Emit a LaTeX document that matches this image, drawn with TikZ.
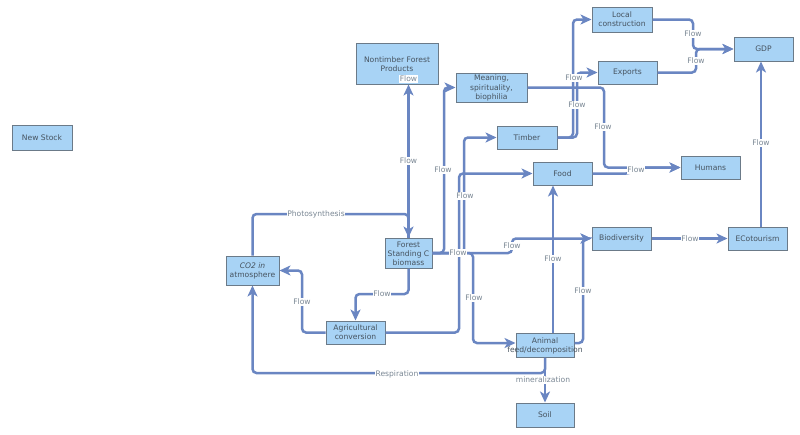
\documentclass[tikz,border=0pt]{standalone}
\usepackage{fontspec}
\setmainfont{DejaVu Sans}
\usetikzlibrary{arrows.meta}
\definecolor{boxfill}{HTML}{A8D3F5}
\definecolor{boxline}{HTML}{6B7A88}
\definecolor{boxtext}{HTML}{46535F}
\definecolor{flowc}{HTML}{6A86C2}
\definecolor{lblc}{HTML}{7A8794}
\tikzset{
  box/.style={draw=boxline, fill=boxfill, line width=1pt, inner sep=0pt,
    text=boxtext, font=\fontsize{7.6}{9.2}\selectfont, align=center},
  boxtxt/.style={text=boxtext, font=\fontsize{7.6}{9.2}\selectfont, align=center, inner sep=0pt},
  flow/.style={draw=flowc, line width=2.5pt, rounded corners=4pt,
    -{Stealth[length=11pt,width=10pt,inset=3pt]}},
  lbl/.style={fill=white, text=lblc, inner sep=0.6pt, font=\fontsize{7.6}{9}\selectfont}
}
\begin{document}
\begin{tikzpicture}[x=1pt,y=-1pt]
\path[use as bounding box, fill=white] (0,0) rectangle (800,434);

% boxes
\node[box, minimum width=60pt, minimum height=25pt] (stack) at (42,137.5) {New Stock};
\node[box, minimum width=60pt, minimum height=25pt] (local) at (622,19.5) {Local\\construction};
\node[box, minimum width=59pt, minimum height=23pt] (exports) at (627.5,72.5) {Exports};
\node[box, minimum width=59pt, minimum height=24pt] (gdp) at (763.5,49) {GDP};
\node[box, minimum width=59pt, minimum height=23pt] (humans) at (710.5,167.5) {Humans};
\node[box, minimum width=59pt, minimum height=23pt] (biodiv) at (621.5,238.5) {Biodiversity};
\node[box, minimum width=59pt, minimum height=23pt] (eco) at (757.5,238.5) {ECotourism};
\node[box, minimum width=82pt, minimum height=41pt] (nontimber) at (397,63.5) {};
\node[boxtxt] (nontimbertxt) at (397,64) {Nontimber Forest\\Products};
\node[box, minimum width=71pt, minimum height=29pt] (meaning) at (491.5,87.5) {};
\node[boxtxt] (meaningtxt) at (491.5,88) {Meaning,\\spirituality,\\biophilia};
\node[box, minimum width=60pt, minimum height=23pt] (timber) at (527,137.5) {Timber};
\node[box, minimum width=59pt, minimum height=23pt] (food) at (562.5,173.5) {Food};
\node[box, minimum width=47pt, minimum height=30pt] (forest) at (408.5,253) {};
\node[boxtxt] (foresttxt) at (408.5,254) {Forest\\Standing C\\biomass};
\node[box, minimum width=53pt, minimum height=29pt] (co2) at (252.5,270.5) {\itshape CO2 in\\atmosphere};
\node[box, minimum width=59pt, minimum height=23pt] (agri) at (355.5,332.5) {Agricultural\\conversion};
\node[box, minimum width=58pt, minimum height=24pt] (animal) at (545,345) {};
\node[boxtxt] (animaltxt) at (545,346) {Animal\\feed/decomposition};
\node[box, minimum width=58pt, minimum height=24pt] (soil) at (545,415) {Soil};

% connectors
\draw[flow] (co2.north) |- (408.5,214) -- (forest.north);
\draw[flow] (forest.north) -- (forest.north |- nontimber.south);
\draw[flow] (forest.east) -- (444,253) |- (meaning.west);
\draw[flow] (forest.east) -- (464,253) |- (timber.west);
\draw[flow] (agri.east) -- (459,332.5) |- (food.west);
\draw[flow] (forest.east) -- (473,253) |- ([yshift=2pt]animal.west);
\draw[flow] (forest.east) -- (512,253) |- (biodiv.west);
\draw[flow] (forest.south) -- (408.5,294) -| (agri.north);
\draw[flow] (agri.west) -- (302,332.5) |- (co2.east);
\draw[flow] (animal.south) -- (545,373) -| (co2.south);
\draw[flow] (animal.south) -- (soil.north);
\draw[flow] ([xshift=8pt]animal.north) -- ([xshift=8pt]animal.north |- food.south);
\draw[flow] ([yshift=2pt]animal.east) -- (583,343) |- (biodiv.west);
\draw[flow] (timber.east) -- (573,137.5) |- (local.west);
\draw[flow] (timber.east) -- (577,137.5) |- (exports.west);
\draw[flow] (meaning.east) -- (604,87.5) |- (humans.west);
\draw[flow] (food.east) -- (630,173.5) -- (638,167.5) -- (humans.west);
\draw[flow] (local.east) -- (693,19.5) |- (gdp.west);
\draw[flow] (exports.east) -- (696,72.5) |- (gdp.west);
\draw[flow] (biodiv.east) -- (eco.west);
\draw[flow] ([xshift=3.5pt]eco.north) -- ([xshift=3.5pt]eco.north |- gdp.south);

% labels
\node[lbl] (l1) at (408.5,79) {Flow};
\node[lbl] (l2) at (408.5,161) {Flow};
\node[lbl] (l3) at (443,170) {Flow};
\node[lbl] (l4) at (465,196) {Flow};
\node[lbl] (l5) at (458,253) {Flow};
\node[lbl] (l6) at (474,298) {Flow};
\node[lbl] (l7) at (512,246) {Flow};
\node[lbl] (l8) at (553,259) {Flow};
\node[lbl] (l9) at (583,291) {Flow};
\node[lbl] (l10) at (382,294) {Flow};
\node[lbl] (l11) at (302,302) {Flow};
\node[lbl] (l12) at (574,78) {Flow};
\node[lbl] (l13) at (577,105) {Flow};
\node[lbl] (l14) at (603,127) {Flow};
\node[lbl] (l15) at (636,170) {Flow};
\node[lbl] (l16) at (693,34) {Flow};
\node[lbl] (l17) at (696,61) {Flow};
\node[lbl] (l18) at (690,239) {Flow};
\node[lbl] (l19) at (761,143) {Flow};
\node[lbl] (l20) at (316,214) {Photosynthesis};
\node[lbl] (l21) at (397,374) {Respiration};
\node[lbl] (l22) at (543,380) {mineralization};
\end{tikzpicture}
\end{document}
